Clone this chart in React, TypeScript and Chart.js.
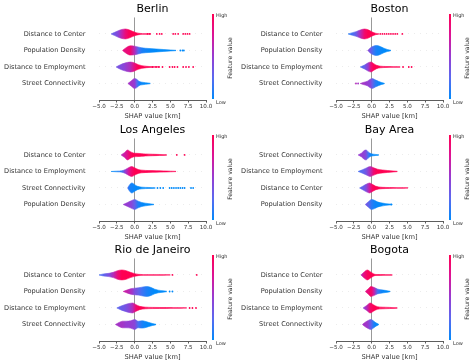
import React, { useEffect, useRef } from "react";
import { Chart, registerables } from "chart.js";

Chart.register(...registerables);

// ---------- tick labels / axis ----------
const X_TICKS = [-5, -2.5, 0, 2.5, 5, 7.5, 10];
const X_LABEL = "SHAP value [km]";
const CBAR_HIGH = "High";
const CBAR_LOW = "Low";
const CBAR_LABEL = "Feature value";

// ---------- panel titles and feature order (top to bottom) ----------
const CITY_TITLES = ["Berlin", "Boston", "Los Angeles", "Bay Area", "Rio de Janeiro", "Bogota"];
const BERLIN_FEATURES = ["Distance to Center", "Population Density", "Distance to Employment", "Street Connectivity"];
const BOSTON_FEATURES = ["Distance to Center", "Population Density", "Distance to Employment", "Street Connectivity"];
const LA_FEATURES = ["Distance to Center", "Distance to Employment", "Street Connectivity", "Population Density"];
const BAY_FEATURES = ["Street Connectivity", "Distance to Employment", "Distance to Center", "Population Density"];
const RIO_FEATURES = ["Distance to Center", "Population Density", "Distance to Employment", "Street Connectivity"];
const BOGOTA_FEATURES = ["Distance to Center", "Population Density", "Distance to Employment", "Street Connectivity"];

// ---------- violin profiles: [shap value, half width (rows), feature value 0..1] ----------
const BER_DTC = [[-3.3, 0, 0.3], [-2.8, 0.1, 0.35], [-2.3, 0.2, 0.45], [-1.8, 0.27, 0.65], [-1.3, 0.3, 0.85], [-0.8, 0.25, 0.97], [-0.3, 0.16, 1], [0.2, 0.08, 1], [0.6, 0.04, 1], [1.1, 0.02, 1], [1.7, 0.012, 1], [2.3, 0.008, 1]];
const BER_POP = [[-1.7, 0, 0.8], [-1.2, 0.17, 0.85], [-0.6, 0.28, 0.9], [0, 0.26, 0.6], [0.5, 0.21, 0.25], [1.0, 0.16, 0.08], [2.0, 0.12, 0.02], [3.0, 0.09, 0], [4.0, 0.06, 0], [5.0, 0.03, 0], [5.8, 0.01, 0]];
const BER_EMP = [[-2.6, 0, 0.35], [-2.0, 0.14, 0.4], [-1.5, 0.22, 0.45], [-0.6, 0.3, 0.6], [0, 0.24, 0.85], [0.5, 0.14, 1], [1.0, 0.08, 1], [1.7, 0.04, 1], [2.5, 0.015, 1], [3.5, 0.008, 1]];
const BER_STR = [[-0.95, 0, 0.55], [-0.5, 0.15, 0.55], [0, 0.3, 0.5], [0.3, 0.25, 0.25], [0.6, 0.13, 0.08], [1.0, 0.08, 0.02], [1.5, 0.05, 0], [2.2, 0.015, 0]];

const BOS_DTC = [[-3.3, 0, 0.1], [-2.7, 0.08, 0.2], [-2.2, 0.14, 0.3], [-1.6, 0.24, 0.6], [-1.0, 0.3, 0.9], [-0.5, 0.25, 1], [0, 0.14, 1], [0.5, 0.05, 1], [1.0, 0.01, 1]];
const BOS_POP = [[-0.55, 0, 0.45], [-0.2, 0.15, 0.35], [0.3, 0.27, 0.15], [0.7, 0.3, 0.06], [1.2, 0.24, 0.03], [1.7, 0.14, 0], [2.2, 0.06, 0], [2.7, 0.01, 0]];
const BOS_EMP = [[-1.6, 0, 0.2], [-1.0, 0.12, 0.3], [-0.5, 0.25, 0.5], [-0.1, 0.3, 0.85], [0.3, 0.2, 1], [0.7, 0.1, 1], [1.2, 0.05, 1], [2.0, 0.03, 1], [3.0, 0.02, 1], [4.0, 0.01, 1]];
const BOS_STR = [[-1.6, 0, 0.55], [-1.2, 0.06, 0.55], [-0.6, 0.14, 0.5], [-0.2, 0.26, 0.45], [0.1, 0.3, 0.3], [0.5, 0.22, 0.12], [1.0, 0.12, 0.03], [1.4, 0.06, 0], [1.8, 0.01, 0]];

const LA_DTC = [[-1.9, 0, 0.6], [-1.4, 0.15, 0.7], [-1.0, 0.3, 0.8], [-0.6, 0.2, 0.95], [-0.2, 0.12, 1], [0.3, 0.1, 1], [1.0, 0.08, 1], [1.5, 0.06, 1], [2.5, 0.045, 1], [3.5, 0.03, 1], [4.5, 0.01, 1]];
const LA_EMP = [[-3.3, 0, 0], [-2.5, 0.02, 0.05], [-1.8, 0.04, 0.15], [-1.3, 0.12, 0.5], [-0.8, 0.24, 0.75], [-0.4, 0.3, 0.9], [0, 0.22, 1], [0.5, 0.12, 1], [1.0, 0.08, 1], [2.0, 0.055, 1], [3.0, 0.045, 1], [4.0, 0.035, 1], [5.0, 0.02, 1], [5.8, 0.008, 1]];
const LA_STR = [[-1.0, 0, 0.2], [-0.7, 0.2, 0.08], [-0.4, 0.3, 0.05], [0, 0.2, 0.02], [0.4, 0.1, 0], [1.0, 0.05, 0], [2.0, 0.03, 0], [2.9, 0.012, 0]];
const LA_POP = [[-1.6, 0, 0.5], [-1.0, 0.12, 0.5], [-0.5, 0.22, 0.45], [0, 0.3, 0.3], [0.5, 0.2, 0.08], [1.0, 0.12, 0.02], [1.5, 0.08, 0], [2.0, 0.05, 0], [2.7, 0.01, 0]];

const BAY_STR = [[-1.9, 0, 0.5], [-1.4, 0.12, 0.5], [-1.0, 0.28, 0.45], [-0.8, 0.3, 0.4], [-0.5, 0.2, 0.2], [-0.2, 0.1, 0.05], [0.2, 0.05, 0], [0.6, 0.03, 0], [1.0, 0.01, 0]];
const BAY_EMP = [[-1.9, 0, 0.2], [-1.3, 0.1, 0.25], [-0.8, 0.2, 0.35], [-0.2, 0.3, 0.6], [0.3, 0.22, 0.9], [0.8, 0.14, 1], [1.5, 0.09, 1], [2.2, 0.06, 1], [3.0, 0.03, 1], [3.6, 0.01, 1]];
const BAY_DTC = [[-1.7, 0, 0.25], [-1.2, 0.12, 0.3], [-0.8, 0.22, 0.4], [-0.3, 0.3, 0.7], [0.1, 0.22, 0.95], [0.5, 0.12, 1], [1.0, 0.06, 1], [1.5, 0.04, 1], [2.5, 0.025, 1], [3.5, 0.02, 1], [4.5, 0.02, 1], [5.1, 0.008, 1]];
const BAY_POP = [[-0.9, 0, 0.35], [-0.5, 0.15, 0.3], [0, 0.3, 0.12], [0.4, 0.25, 0.05], [0.8, 0.16, 0.02], [1.3, 0.1, 0], [2.0, 0.05, 0], [2.9, 0.01, 0]];

const RIO_DTC = [[-5.0, 0, 0.2], [-4.4, 0.06, 0.25], [-3.6, 0.1, 0.4], [-3.0, 0.16, 0.6], [-2.4, 0.26, 0.85], [-1.8, 0.3, 1], [-1.2, 0.26, 1], [-0.6, 0.16, 1], [0, 0.08, 1], [0.5, 0.04, 1], [1.2, 0.02, 1], [2.0, 0.015, 1], [3.0, 0.012, 1], [4.0, 0.01, 1], [5.0, 0.006, 1]];
const RIO_POP = [[-1.6, 0, 0.7], [-1.0, 0.1, 0.65], [-0.4, 0.18, 0.55], [0, 0.2, 0.4], [0.5, 0.22, 0.3], [1.0, 0.26, 0.18], [1.7, 0.3, 0.08], [2.3, 0.24, 0.03], [2.8, 0.14, 0], [3.3, 0.08, 0], [4.0, 0.04, 0], [4.5, 0.015, 0]];
const RIO_EMP = [[-2.5, 0, 0.25], [-2.0, 0.1, 0.3], [-1.4, 0.2, 0.35], [-0.8, 0.27, 0.45], [-0.3, 0.3, 0.6], [0.2, 0.2, 0.9], [0.7, 0.1, 1], [1.5, 0.05, 1], [2.5, 0.035, 1], [3.5, 0.03, 1], [4.5, 0.025, 1], [5.5, 0.02, 1], [6.5, 0.015, 1], [7.3, 0.008, 1]];
const RIO_STR = [[-2.7, 0, 0.55], [-2.2, 0.12, 0.55], [-1.7, 0.2, 0.55], [-1.2, 0.2, 0.5], [-0.6, 0.22, 0.5], [0, 0.3, 0.45], [0.5, 0.2, 0.2], [1.0, 0.22, 0.08], [1.4, 0.2, 0.03], [2.0, 0.12, 0], [2.5, 0.06, 0], [3.0, 0.01, 0]];

const BOG_DTC = [[-1.5, 0, 0.6], [-1.0, 0.2, 0.85], [-0.6, 0.3, 0.95], [-0.2, 0.2, 1], [0.3, 0.06, 1], [0.6, 0.03, 1], [1.2, 0.025, 1], [2.0, 0.02, 1], [2.9, 0.01, 1]];
const BOG_POP = [[-0.9, 0, 0.8], [-0.5, 0.15, 0.85], [-0.1, 0.3, 0.95], [0.3, 0.25, 0.7], [0.8, 0.15, 0.2], [1.3, 0.1, 0.05], [2.0, 0.06, 0], [2.6, 0.01, 0]];
const BOG_EMP = [[-1.2, 0, 0.45], [-0.7, 0.15, 0.6], [-0.2, 0.3, 0.9], [0.3, 0.18, 1], [0.8, 0.08, 1], [1.5, 0.05, 1], [2.5, 0.035, 1], [3.6, 0.01, 1]];
const BOG_STR = [[-1.3, 0, 0.55], [-0.9, 0.14, 0.55], [-0.5, 0.24, 0.5], [-0.1, 0.3, 0.3], [0.3, 0.2, 0.08], [0.6, 0.1, 0.02], [1.0, 0.01, 0]];

// ---------- sparse tail points: [shap value, feature value] ----------
const NO_DOTS: number[][] = [];
const BER_DTC_DOTS = [[1.8, 1], [2.1, 1], [3.1, 1], [3.5, 1], [3.8, 1], [5.4, 1], [5.7, 1], [6.1, 1], [6.8, 1], [7.1, 1], [7.4, 1], [7.7, 1]];
const BER_POP_DOTS = [[6.4, 0], [6.7, 0], [6.9, 0]];
const BER_EMP_DOTS = [[2.5, 1], [3.0, 1], [3.4, 1], [3.9, 1], [4.9, 1], [5.3, 1], [5.6, 1], [6.0, 1], [6.8, 1], [7.2, 1], [7.6, 1], [8.2, 1]];
const BOS_DTC_DOTS = [[1.2, 1], [1.5, 1], [1.8, 1], [2.1, 1], [2.4, 1], [2.7, 1], [3.0, 1], [3.3, 1], [3.6, 1], [4.3, 1]];
const BOS_EMP_DOTS = [[4.4, 1], [5.2, 1], [5.6, 1]];
const BOS_STR_DOTS = [[-2.2, 0.6], [-1.9, 0.55]];
const LA_DTC_DOTS = [[5.9, 1], [7.0, 1]];
const LA_STR_DOTS = [[3.2, 0], [3.6, 0], [4.0, 0], [4.9, 0], [5.2, 0], [5.5, 0], [5.8, 0], [6.1, 0], [6.4, 0], [6.7, 0], [7.0, 0], [7.9, 0], [8.2, 0]];
const BAY_POP_DOTS = [[2.75, 0]];
const RIO_DTC_DOTS = [[5.3, 1], [8.7, 1]];
const RIO_POP_DOTS = [[4.9, 0], [5.3, 0]];
const RIO_EMP_DOTS = [[7.7, 1], [8.1, 1], [8.6, 1]];

// ---------- colour map (SHAP red/blue) ----------
const CMAP_STOPS: number[][] = [
  [0, 0, 138, 250],
  [0.25, 90, 105, 240],
  [0.5, 150, 60, 210],
  [0.75, 220, 20, 150],
  [1, 255, 0, 82],
];

function cmap(t: number): string {
  const v = Math.max(0, Math.min(1, t));
  for (let i = 1; i < CMAP_STOPS.length; i++) {
    const a = CMAP_STOPS[i - 1];
    const b = CMAP_STOPS[i];
    if (v <= b[0]) {
      const f = (v - a[0]) / (b[0] - a[0]);
      const r = Math.round(a[1] + (b[1] - a[1]) * f);
      const g = Math.round(a[2] + (b[2] - a[2]) * f);
      const bl = Math.round(a[3] + (b[3] - a[3]) * f);
      return `rgb(${r},${g},${bl})`;
    }
  }
  return "rgb(255,0,82)";
}

function makeGradient(chart: any, shape: number[][]) {
  const xs = chart.scales && chart.scales.x;
  if (!chart.chartArea || !xs) return cmap(shape[0][2]);
  const x0 = xs.getPixelForValue(shape[0][0]);
  const x1 = xs.getPixelForValue(shape[shape.length - 1][0]);
  if (!(x1 - x0 > 0.5)) return cmap(shape[0][2]);
  const g = chart.ctx.createLinearGradient(x0, 0, x1, 0);
  shape.forEach((p) => {
    const f = (xs.getPixelForValue(p[0]) - x0) / (x1 - x0);
    g.addColorStop(Math.max(0, Math.min(1, f)), cmap(p[2]));
  });
  return g;
}

type Row = { shape: number[][]; dots: number[][] };

const PANELS: { title: string; features: string[]; rows: Row[]; left: number; top: number }[] = [
  { title: CITY_TITLES[0], features: BERLIN_FEATURES, left: 0, top: 0, rows: [
    { shape: BER_DTC, dots: BER_DTC_DOTS }, { shape: BER_POP, dots: BER_POP_DOTS },
    { shape: BER_EMP, dots: BER_EMP_DOTS }, { shape: BER_STR, dots: NO_DOTS }] },
  { title: CITY_TITLES[1], features: BOSTON_FEATURES, left: 237, top: 0, rows: [
    { shape: BOS_DTC, dots: BOS_DTC_DOTS }, { shape: BOS_POP, dots: NO_DOTS },
    { shape: BOS_EMP, dots: BOS_EMP_DOTS }, { shape: BOS_STR, dots: BOS_STR_DOTS }] },
  { title: CITY_TITLES[2], features: LA_FEATURES, left: 0, top: 121, rows: [
    { shape: LA_DTC, dots: LA_DTC_DOTS }, { shape: LA_EMP, dots: NO_DOTS },
    { shape: LA_STR, dots: LA_STR_DOTS }, { shape: LA_POP, dots: NO_DOTS }] },
  { title: CITY_TITLES[3], features: BAY_FEATURES, left: 237, top: 121, rows: [
    { shape: BAY_STR, dots: NO_DOTS }, { shape: BAY_EMP, dots: NO_DOTS },
    { shape: BAY_DTC, dots: NO_DOTS }, { shape: BAY_POP, dots: BAY_POP_DOTS }] },
  { title: CITY_TITLES[4], features: RIO_FEATURES, left: 0, top: 241, rows: [
    { shape: RIO_DTC, dots: RIO_DTC_DOTS }, { shape: RIO_POP, dots: RIO_POP_DOTS },
    { shape: RIO_EMP, dots: RIO_EMP_DOTS }, { shape: RIO_STR, dots: NO_DOTS }] },
  { title: CITY_TITLES[5], features: BOGOTA_FEATURES, left: 237, top: 241, rows: [
    { shape: BOG_DTC, dots: NO_DOTS }, { shape: BOG_POP, dots: NO_DOTS },
    { shape: BOG_EMP, dots: NO_DOTS }, { shape: BOG_STR, dots: NO_DOTS }] },
];

const FONT = '"DejaVu Sans", sans-serif';
const PW = 237;
const PH = 121;

function Panel({ title, features, rows, left, top }: { title: string; features: string[]; rows: Row[]; left: number; top: number }) {
  const ref = useRef<HTMLCanvasElement>(null);

  useEffect(() => {
    if (!ref.current) return;
    const n = rows.length;
    const datasets: any[] = [];
    rows.forEach((row, i) => {
      const pos = n - 1 - i;
      const grad = (ctx: any) => makeGradient(ctx.chart, row.shape);
      datasets.push({
        data: row.shape.map((p) => ({ x: p[0], y: pos + p[1] })),
        showLine: true, pointRadius: 0, pointHoverRadius: 0, borderWidth: 0.6,
        borderColor: grad, backgroundColor: grad, fill: false,
        cubicInterpolationMode: "monotone",
      });
      datasets.push({
        data: row.shape.map((p) => ({ x: p[0], y: pos - p[1] })),
        showLine: true, pointRadius: 0, pointHoverRadius: 0, borderWidth: 0.6,
        borderColor: grad, backgroundColor: grad, fill: "-1",
        cubicInterpolationMode: "monotone",
      });
      datasets.push({
        data: row.dots.map((d) => ({ x: d[0], y: pos })),
        showLine: false, pointRadius: 0.9, pointBorderWidth: 0,
        pointBackgroundColor: row.dots.map((d) => cmap(d[1])),
        backgroundColor: row.dots.map((d) => cmap(d[1])),
      });
    });

    const chart = new Chart(ref.current, {
      type: "scatter",
      data: { datasets },
      options: {
        animation: false,
        responsive: false,
        devicePixelRatio: 1,
        events: [],
        layout: { padding: { left: 0, right: 31, top: 13, bottom: 0 } },
        plugins: { legend: { display: false }, tooltip: { enabled: false }, title: { display: false } },
        scales: {
          x: {
            type: "linear",
            min: -5,
            max: 10,
            afterBuildTicks: (scale: any) => { scale.ticks = X_TICKS.map((v) => ({ value: v })); },
            afterFit: (scale: any) => { scale.height = 21; },
            ticks: {
              color: "#333333",
              font: { family: FONT, size: 5.6 },
              padding: 1,
              maxRotation: 0,
              autoSkip: false,
              callback: (v: any) => {
                const s = Number(v).toFixed(1);
                return s.replace("-", "\u2212");
              },
            },
            grid: {
              drawOnChartArea: true,
              drawTicks: true,
              tickLength: 2.5,
              tickWidth: 0.8,
              tickColor: "#333333",
              lineWidth: 1,
              color: (ctx: any) => (ctx.tick && ctx.tick.value === 0 ? "#999999" : "rgba(0,0,0,0)"),
            },
            border: { display: true, color: "#333333", width: 0.8 },
            title: {
              display: true,
              text: X_LABEL,
              color: "#333333",
              font: { family: FONT, size: 6.7 },
              padding: { top: 0, bottom: 1 },
            },
          },
          y: {
            type: "linear",
            min: -1,
            max: n,
            afterBuildTicks: (scale: any) => {
              scale.ticks = features.map((_, i) => ({ value: i }));
            },
            afterFit: (scale: any) => { scale.width = 99; },
            ticks: {
              color: "#333333",
              font: { family: FONT, size: 6.6 },
              padding: 13.5,
              autoSkip: false,
              callback: (v: any) => features[n - 1 - Number(v)],
            },
            grid: {
              drawTicks: false,
              lineWidth: 0.5,
              color: "rgba(200,200,200,0.7)",
            },
            border: { display: false, dash: [1, 5] },
          },
        },
      } as any,
    });
    return () => chart.destroy();
  }, []);

  const barGradient = `linear-gradient(to top, ${CMAP_STOPS.map((s) => `${cmap(s[0])} ${s[0] * 100}%`).join(", ")})`;

  return (
    <div style={{ position: "absolute", left, top, width: PW, height: PH }}>
      <canvas ref={ref} width={PW} height={PH} style={{ position: "absolute", left: 0, top: 0, width: PW, height: PH }} />
      <div style={{ position: "absolute", left: 99, top: 0, width: 107, height: 17, lineHeight: "17px", textAlign: "center", fontSize: "11px", color: "#000", fontFamily: FONT, whiteSpace: "nowrap" }}>
        {title}
      </div>
      <div style={{ position: "absolute", left: 212, top: 14, width: 2, height: 85, backgroundImage: barGradient, zIndex: 2 }} />
      <div style={{ position: "absolute", left: 216, top: 10.5, height: 8, lineHeight: "8px", fontSize: "5px", color: "#333333", fontFamily: FONT, whiteSpace: "nowrap" }}>
        {CBAR_HIGH}
      </div>
      <div style={{ position: "absolute", left: 216, top: 97.5, height: 8, lineHeight: "8px", fontSize: "5px", color: "#333333", fontFamily: FONT, whiteSpace: "nowrap" }}>
        {CBAR_LOW}
      </div>
      <div style={{ position: "absolute", left: 200, top: 53.5, width: 60, height: 8, lineHeight: "8px", textAlign: "center", fontSize: "6.1px", color: "#333333", fontFamily: FONT, whiteSpace: "nowrap", transform: "rotate(-90deg)" }}>
        {CBAR_LABEL}
      </div>
    </div>
  );
}

export default function App() {
  return (
    <div style={{ position: "absolute", left: 0, top: 0, width: 474, height: 363, background: "#fff", overflow: "hidden" }}>
      {PANELS.map((p) => (
        <Panel key={p.title} title={p.title} features={p.features} rows={p.rows} left={p.left} top={p.top} />
      ))}
    </div>
  );
}
